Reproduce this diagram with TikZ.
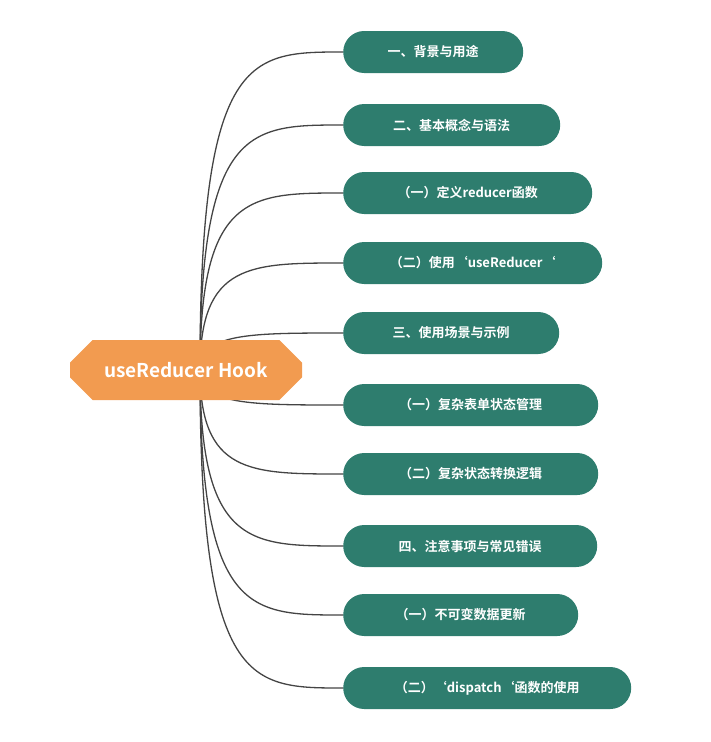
\documentclass[tikz,border=0pt]{standalone}
\usepackage{fontspec}
\setmainfont{Noto Sans CJK SC}[BoldFont={* Bold}]
\usetikzlibrary{shapes.misc}
\definecolor{teal1}{HTML}{2E7D6E}
\definecolor{orng}{HTML}{F29B50}
\definecolor{lnk}{HTML}{444444}
\tikzset{
  leaf/.style={fill=teal1,text=white,font=\bfseries\fontsize{13}{15}\selectfont,rounded corners=21pt,minimum height=42pt,anchor=west,inner sep=0pt},
  root/.style={chamfered rectangle,chamfered rectangle xsep=15pt,chamfered rectangle ysep=15pt,fill=orng,text=white,font=\bfseries\fontsize{19}{22}\selectfont,minimum width=232pt,minimum height=60pt,inner sep=0pt},
  link/.style={draw=lnk,line width=1.3pt}
}
\begin{document}
\begin{tikzpicture}[x=1pt,y=-1pt]
\useasboundingbox (0,0) rectangle (711,742);
\coordinate (o) at (200,370);
\foreach \n/\y/\r/\t in {a/52/523/一、背景与用途, b/125/560/二、基本概念与语法, c/193/592/（一）定义reducer函数, d/263/602/（二）使用`useReducer`, e/333/559/三、使用场景与示例, f/405/598/（一）复杂表单状态管理, g/474/598/（二）复杂状态转换逻辑, h/546/597/四、注意事项与常见错误, i/615/578/（一）不可变数据更新, j/688/631/（二）`dispatch`函数的使用}{
  \node[leaf,minimum width=\r pt-343pt] (\n) at (343,\y) {\t};
  \draw[link] (o) .. controls (200,\y) and (250,\y) .. (\n.west);
}
\node[root] (root) at (186,370) {useReducer Hook};
\end{tikzpicture}
\end{document}
